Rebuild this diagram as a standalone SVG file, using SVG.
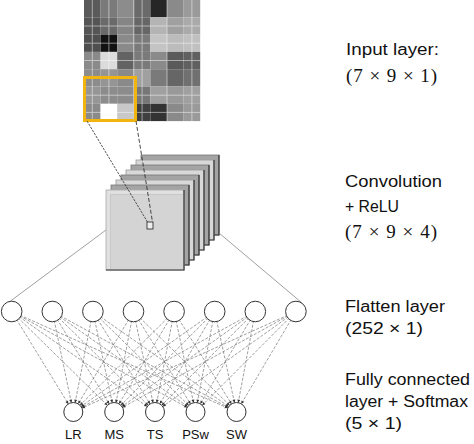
<svg xmlns="http://www.w3.org/2000/svg" width="474" height="444" viewBox="0 0 474 444">
<style>
.lbl{font-family:"Liberation Sans","Open Sans",sans-serif;font-size:16px;fill:#111}
.math{font-family:"Liberation Serif","DejaVu Serif",serif;font-size:19px;fill:#111}
.out{font-family:"Liberation Sans","Open Sans",sans-serif;font-size:13px;fill:#111;text-anchor:middle}
.node{fill:#fff;stroke:#333;stroke-width:1}
.fc{stroke:#777;stroke-width:0.7;stroke-dasharray:3 1.5;fill:none}
.thin{stroke:#888;stroke-width:0.8;fill:none}
.gl{stroke:#fff;stroke-width:0.9;opacity:0.55}
.shd{fill:#a4a4a4;stroke:#777;stroke-width:0.8}
.lt{fill:#d8d8d8;stroke:#999;stroke-width:0.8}
.edge{fill:none;stroke:#333;stroke-width:1.2}
</style>
<defs>
<marker id="ah" markerUnits="userSpaceOnUse" markerWidth="4" markerHeight="3" refX="12.5" refY="1.5" orient="auto" overflow="visible">
<path d="M0,0 L3,1.5 L0,3 Z" fill="#333"/>
</marker>
</defs>

<g id="input-layer">
<rect x="84" y="0" width="16.6" height="17.3" fill="#5a5a5a"/>
<rect x="100.6" y="0" width="16.6" height="17.3" fill="#7a7a7a"/>
<rect x="117.2" y="0" width="16.6" height="17.3" fill="#8c8c8c"/>
<rect x="133.8" y="0" width="16.6" height="17.3" fill="#6a6a6a"/>
<rect x="150.4" y="0" width="16.6" height="17.3" fill="#262626"/>
<rect x="167" y="0" width="16.6" height="17.3" fill="#8a8a8a"/>
<rect x="183.6" y="0" width="16.6" height="17.3" fill="#9a9a9a"/>
<rect x="84" y="17.3" width="16.6" height="17.3" fill="#555"/>
<rect x="100.6" y="17.3" width="16.6" height="17.3" fill="#6a6a6a"/>
<rect x="117.2" y="17.3" width="16.6" height="17.3" fill="#858585"/>
<rect x="133.8" y="17.3" width="16.6" height="17.3" fill="#666"/>
<rect x="150.4" y="17.3" width="16.6" height="17.3" fill="#b4b4b4"/>
<rect x="167" y="17.3" width="16.6" height="17.3" fill="#a0a0a0"/>
<rect x="183.6" y="17.3" width="16.6" height="17.3" fill="#aaa"/>
<rect x="84" y="34.6" width="16.6" height="17.3" fill="#4f4f4f"/>
<rect x="100.6" y="34.6" width="16.6" height="17.3" fill="#121212"/>
<rect x="117.2" y="34.6" width="16.6" height="17.3" fill="#8a8a8a"/>
<rect x="133.8" y="34.6" width="16.6" height="17.3" fill="#7a7a7a"/>
<rect x="150.4" y="34.6" width="16.6" height="17.3" fill="#c4c4c4"/>
<rect x="167" y="34.6" width="16.6" height="17.3" fill="#bcbcbc"/>
<rect x="183.6" y="34.6" width="16.6" height="17.3" fill="#c0c0c0"/>
<rect x="84" y="51.9" width="16.6" height="17.3" fill="#8a8a8a"/>
<rect x="100.6" y="51.9" width="16.6" height="17.3" fill="#dcdcdc"/>
<rect x="117.2" y="51.9" width="16.6" height="17.3" fill="#636363"/>
<rect x="133.8" y="51.9" width="16.6" height="17.3" fill="#7a7a7a"/>
<rect x="150.4" y="51.9" width="16.6" height="17.3" fill="#8a8a8a"/>
<rect x="167" y="51.9" width="16.6" height="17.3" fill="#5a5a5a"/>
<rect x="183.6" y="51.9" width="16.6" height="17.3" fill="#606060"/>
<rect x="84" y="69.2" width="16.6" height="17.3" fill="#8c8c8c"/>
<rect x="100.6" y="69.2" width="16.6" height="17.3" fill="#959595"/>
<rect x="117.2" y="69.2" width="16.6" height="17.3" fill="#8a8a8a"/>
<rect x="133.8" y="69.2" width="16.6" height="17.3" fill="#a0a0a0"/>
<rect x="150.4" y="69.2" width="16.6" height="17.3" fill="#7a7a7a"/>
<rect x="167" y="69.2" width="16.6" height="17.3" fill="#666"/>
<rect x="183.6" y="69.2" width="16.6" height="17.3" fill="#707070"/>
<rect x="84" y="86.5" width="16.6" height="17.3" fill="#969696"/>
<rect x="100.6" y="86.5" width="16.6" height="17.3" fill="#8c8c8c"/>
<rect x="117.2" y="86.5" width="16.6" height="17.3" fill="#8c8c8c"/>
<rect x="133.8" y="86.5" width="16.6" height="17.3" fill="#777"/>
<rect x="150.4" y="86.5" width="16.6" height="17.3" fill="#a0a0a0"/>
<rect x="167" y="86.5" width="16.6" height="17.3" fill="#999"/>
<rect x="183.6" y="86.5" width="16.6" height="17.3" fill="#a0a0a0"/>
<rect x="84" y="103.8" width="16.6" height="17.3" fill="#8a8a8a"/>
<rect x="100.6" y="103.8" width="16.6" height="17.3" fill="#fff"/>
<rect x="117.2" y="103.8" width="16.6" height="17.3" fill="#c8c8c8"/>
<rect x="133.8" y="103.8" width="16.6" height="17.3" fill="#3f3f3f"/>
<rect x="150.4" y="103.8" width="16.6" height="17.3" fill="#333"/>
<rect x="167" y="103.8" width="16.6" height="17.3" fill="#8a8a8a"/>
<rect x="183.6" y="103.8" width="16.6" height="17.3" fill="#9a9a9a"/>
<g class="gl">
<line x1="92.3" y1="0" x2="92.3" y2="121"/>
<line x1="108.9" y1="0" x2="108.9" y2="121"/>
<line x1="133.8" y1="0" x2="133.8" y2="121"/>
<line x1="142.1" y1="0" x2="142.1" y2="121"/>
<line x1="167" y1="0" x2="167" y2="121"/>
<line x1="191.9" y1="0" x2="191.9" y2="121"/>
<line x1="84" y1="26" x2="200" y2="26"/>
<line x1="84" y1="43.2" x2="200" y2="43.2"/>
<line x1="84" y1="60.5" x2="200" y2="60.5"/>
<line x1="84" y1="95.2" x2="200" y2="95.2"/>
<line x1="84" y1="112.4" x2="200" y2="112.4"/>
</g>
<rect x="84.5" y="77.5" width="51" height="43" fill="none" stroke="#f2b50f" stroke-width="3"/>
</g>

<g id="conv-layer">
<rect class="shd" x="141" y="155" width="78" height="80"/>
<polyline class="edge" points="219,155 219,235 141,235"/>
<rect class="lt" x="136" y="160" width="78" height="80"/>
<polyline class="edge" points="214,160 214,240 136,240"/>
<rect class="shd" x="131" y="165" width="78" height="80"/>
<polyline class="edge" points="209,165 209,245 131,245"/>
<rect class="lt" x="126" y="170" width="78" height="80"/>
<polyline class="edge" points="204,170 204,250 126,250"/>
<rect class="shd" x="121" y="175" width="78" height="80"/>
<polyline class="edge" points="199,175 199,255 121,255"/>
<rect class="lt" x="116" y="180" width="78" height="80"/>
<polyline class="edge" points="194,180 194,260 116,260"/>
<rect class="shd" x="111" y="185" width="78" height="80"/>
<polyline class="edge" points="189,185 189,265 111,265"/>
<rect x="106" y="190" width="78" height="80" fill="#e0e0e0" stroke="#aaa" stroke-width="0.8"/>
<rect x="110.5" y="194.5" width="73.5" height="75.5" fill="#d4d4d4" stroke="#c4c4c4" stroke-width="0.8"/>
<polyline class="edge" points="184,190 184,270 106,270"/>
<rect x="147" y="222" width="6" height="7" fill="#eee" stroke="#333" stroke-width="0.9"/>
</g>

<g id="connectors">
<line x1="87" y1="121" x2="147.5" y2="222" stroke="#333" stroke-width="0.8" stroke-dasharray="2.5 1"/>
<line x1="136" y1="121" x2="152.5" y2="222" stroke="#333" stroke-width="0.9" stroke-dasharray="4 2"/>
<line class="thin" x1="106" y1="230" x2="10.5" y2="301"/>
<line class="thin" x1="219" y1="233" x2="301.5" y2="302.5"/>
<g class="fc" marker-end="url(#ah)">
<line x1="11.7" y1="311.5" x2="73.3" y2="412"/><line x1="11.7" y1="311.5" x2="114.2" y2="412"/><line x1="11.7" y1="311.5" x2="155" y2="412"/><line x1="11.7" y1="311.5" x2="195.5" y2="412"/><line x1="11.7" y1="311.5" x2="236.5" y2="412"/>
<line x1="52.3" y1="311.5" x2="73.3" y2="412"/><line x1="52.3" y1="311.5" x2="114.2" y2="412"/><line x1="52.3" y1="311.5" x2="155" y2="412"/><line x1="52.3" y1="311.5" x2="195.5" y2="412"/><line x1="52.3" y1="311.5" x2="236.5" y2="412"/>
<line x1="92.9" y1="311.5" x2="73.3" y2="412"/><line x1="92.9" y1="311.5" x2="114.2" y2="412"/><line x1="92.9" y1="311.5" x2="155" y2="412"/><line x1="92.9" y1="311.5" x2="195.5" y2="412"/><line x1="92.9" y1="311.5" x2="236.5" y2="412"/>
<line x1="133.5" y1="311.5" x2="73.3" y2="412"/><line x1="133.5" y1="311.5" x2="114.2" y2="412"/><line x1="133.5" y1="311.5" x2="155" y2="412"/><line x1="133.5" y1="311.5" x2="195.5" y2="412"/><line x1="133.5" y1="311.5" x2="236.5" y2="412"/>
<line x1="174.1" y1="311.5" x2="73.3" y2="412"/><line x1="174.1" y1="311.5" x2="114.2" y2="412"/><line x1="174.1" y1="311.5" x2="155" y2="412"/><line x1="174.1" y1="311.5" x2="195.5" y2="412"/><line x1="174.1" y1="311.5" x2="236.5" y2="412"/>
<line x1="214.7" y1="311.5" x2="73.3" y2="412"/><line x1="214.7" y1="311.5" x2="114.2" y2="412"/><line x1="214.7" y1="311.5" x2="155" y2="412"/><line x1="214.7" y1="311.5" x2="195.5" y2="412"/><line x1="214.7" y1="311.5" x2="236.5" y2="412"/>
<line x1="255.3" y1="311.5" x2="73.3" y2="412"/><line x1="255.3" y1="311.5" x2="114.2" y2="412"/><line x1="255.3" y1="311.5" x2="155" y2="412"/><line x1="255.3" y1="311.5" x2="195.5" y2="412"/><line x1="255.3" y1="311.5" x2="236.5" y2="412"/>
<line x1="295.9" y1="311.5" x2="73.3" y2="412"/><line x1="295.9" y1="311.5" x2="114.2" y2="412"/><line x1="295.9" y1="311.5" x2="155" y2="412"/><line x1="295.9" y1="311.5" x2="195.5" y2="412"/><line x1="295.9" y1="311.5" x2="236.5" y2="412"/>
</g>
</g>

<g id="flatten-layer">
<circle class="node" cx="11.7" cy="311.5" r="10.3"/>
<circle class="node" cx="52.3" cy="311.5" r="10.3"/>
<circle class="node" cx="92.9" cy="311.5" r="10.3"/>
<circle class="node" cx="133.5" cy="311.5" r="10.3"/>
<circle class="node" cx="174.1" cy="311.5" r="10.3"/>
<circle class="node" cx="214.7" cy="311.5" r="10.3"/>
<circle class="node" cx="255.3" cy="311.5" r="10.3"/>
<circle class="node" cx="295.9" cy="311.5" r="10.3"/>
</g>

<g id="output-layer">
<g id="out-LR"><circle class="node" cx="73.3" cy="412" r="9.5"/><text class="out" x="73.3" y="439">LR</text></g>
<g id="out-MS"><circle class="node" cx="114.2" cy="412" r="9.5"/><text class="out" x="114.2" y="439">MS</text></g>
<g id="out-TS"><circle class="node" cx="155" cy="412" r="9.5"/><text class="out" x="155" y="439">TS</text></g>
<g id="out-PSw"><circle class="node" cx="195.5" cy="412" r="9.5"/><text class="out" x="195.5" y="439">PSw</text></g>
<g id="out-SW"><circle class="node" cx="236.5" cy="412" r="9.5"/><text class="out" x="236.5" y="439">SW</text></g>
</g>

<g id="labels">
<text class="lbl" x="346" y="55" textLength="93" lengthAdjust="spacingAndGlyphs">Input layer:</text>
<text class="math" x="346" y="82" textLength="91" lengthAdjust="spacing">(7 × 9 × 1)</text>
<text class="lbl" x="345" y="187" textLength="97" lengthAdjust="spacingAndGlyphs">Convolution</text>
<text class="lbl" x="345" y="212" textLength="54" lengthAdjust="spacingAndGlyphs">+ ReLU</text>
<text class="math" x="345" y="238" textLength="92" lengthAdjust="spacing">(7 × 9 × 4)</text>
<text class="lbl" x="345" y="312" textLength="100" lengthAdjust="spacingAndGlyphs">Flatten layer</text>
<text class="lbl" x="345" y="334" textLength="78" lengthAdjust="spacingAndGlyphs">(252 × 1)</text>
<text class="lbl" x="345" y="385" textLength="125" lengthAdjust="spacingAndGlyphs">Fully connected</text>
<text class="lbl" x="345" y="407" textLength="123" lengthAdjust="spacingAndGlyphs">layer + Softmax</text>
<text class="lbl" x="345" y="429" textLength="57" lengthAdjust="spacingAndGlyphs">(5 × 1)</text>
</g>
</svg>
